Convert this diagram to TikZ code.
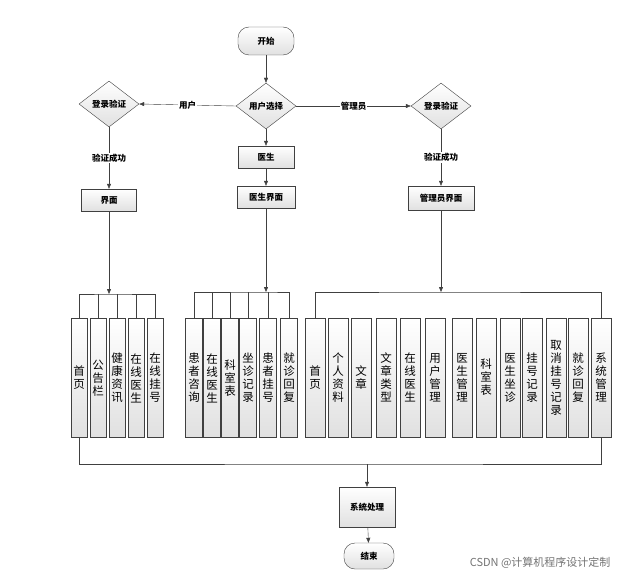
\documentclass[tikz,border=0pt]{standalone}
\usepackage{fontspec}
\setmainfont{Noto Sans CJK SC}
\usetikzlibrary{shapes.geometric,arrows.meta}
\begin{document}
\begin{tikzpicture}[x=1pt,y=-1pt,
  box/.style={draw=black!75,top color=white,bottom color=black!12,font=\fontsize{8.5}{9}\selectfont\bfseries,inner sep=1pt},
  vbox/.style={draw=black!75,top color=white,bottom color=black!12,minimum width=19pt,minimum height=119pt,font=\fontsize{11.5}{13}\selectfont,align=center,inner sep=0pt},
  dia/.style={diamond,draw=black!75,top color=white,bottom color=black!12,minimum width=60pt,minimum height=46pt,font=\fontsize{8.5}{9}\selectfont\bfseries,inner sep=0pt},
  pill/.style={rounded corners=11pt,draw=black!75,top color=white,bottom color=black!12,font=\fontsize{8.5}{9}\selectfont\bfseries},
  lab/.style={font=\fontsize{8.5}{9}\selectfont\bfseries,fill=white,inner sep=1pt},
  arr/.style={draw=black!75,-{Triangle[length=5pt,width=4pt]}},
  ln/.style={draw=black!75}]
\useasboundingbox (0,0) rectangle (628,583);
\node[pill,minimum width=56pt,minimum height=28pt] (start) at (266,41) {开始};
\node[dia] (sel) at (266,106) {用户选择};
\node[dia] (ldl) at (109,104) {登录验证};
\node[dia] (ldr) at (441,106) {登录验证};
\draw[arr] (start) -- (sel);
\draw[arr] (sel.west) -- node[lab]{用户} (ldl.east);
\draw[arr] (sel.east) -- node[lab]{管理员} (ldr.west);
\node[box,minimum width=55pt,minimum height=22pt] (jm) at (109,200) {界面};
\node[box,minimum width=56pt,minimum height=22pt] (ys) at (266,157) {医生};
\node[box,minimum width=58pt,minimum height=22pt] (ysjm) at (266,197) {医生界面};
\node[box,minimum width=66pt,minimum height=24pt] (gljm) at (441,198) {管理员界面};
\draw[arr] (ldl) -- node[lab]{验证成功} (jm);
\draw[arr] (ldr) -- node[lab]{验证成功} (gljm);
\draw[arr] (sel) -- (ys);
\draw[arr] (ys) -- (ysjm);
% group 1
\foreach \n/\x/\t in {1/79/首\\页,2/98/公\\告\\栏,3/117/健\\康\\资\\讯,4/136/在\\线\\医\\生,5/155/在\\线\\挂\\号}
  \node[vbox,minimum width=16pt] (a\n) at (\x,378) {\t};
\coordinate (b1) at (109,294);
\draw[arr] (jm) -- (b1);
\draw[ln] (a1.north) |- (b1) -| (a5.north);
\foreach \n in {2,3,4} \draw[ln] (a\n.north) -- (a\n.north |- b1);
% group 2
\foreach \n/\x/\t in {1/194/患\\者\\咨\\询,2/212/在\\线\\医\\生,3/230/科\\室\\表,4/248/坐\\诊\\记\\录,5/268/患\\者\\挂\\号,6/289/就\\诊\\回\\复}
  \node[vbox,minimum width=17pt] (c\n) at (\x,378) {\t};
\coordinate (b2) at (266,292);
\draw[arr] (ysjm) -- (b2);
\draw[ln] (c1.north) |- (b2) -| (c6.north);
\foreach \n in {2,3,4,5} \draw[ln] (c\n.north) -- (c\n.north |- b2);
% group 3
\foreach \n/\x/\t in {1/315/首\\页,2/338/个\\人\\资\\料,3/361/文\\章,4/386/文\\章\\类\\型,5/410/在\\线\\医\\生,6/435/用\\户\\管\\理,7/462/医\\生\\管\\理,8/486/科\\室\\表,9/510/医\\生\\坐\\诊,10/532/挂\\号\\记\\录,11/556/取\\消\\挂\\号\\记\\录,12/578/就\\诊\\回\\复,13/601/系\\统\\管\\理}
  \node[vbox,minimum width=20pt] (d\n) at (\x,377.5) {\t};
\coordinate (b3) at (441,292);
\draw[arr] (gljm) -- (b3);
\draw[ln] (d1.north) |- (b3) -| (d13.north);
% bottom
\node[box,minimum width=56pt,minimum height=40pt] (xt) at (367,507) {系统处理};
\node[pill,minimum width=50pt,minimum height=26pt] (end) at (369,556) {结束};
\coordinate (b4) at (367,464);
\draw[ln] (a1.south) |- (b4) -| (d13.south);
\draw[arr] (b4) -- (xt);
\draw[arr] (xt) -- (end);
\node[text=black!55,font=\fontsize{11}{13}\selectfont,anchor=east] (wm) at (614,563) {CSDN @计算机程序设计定制};
\end{tikzpicture}
\end{document}
